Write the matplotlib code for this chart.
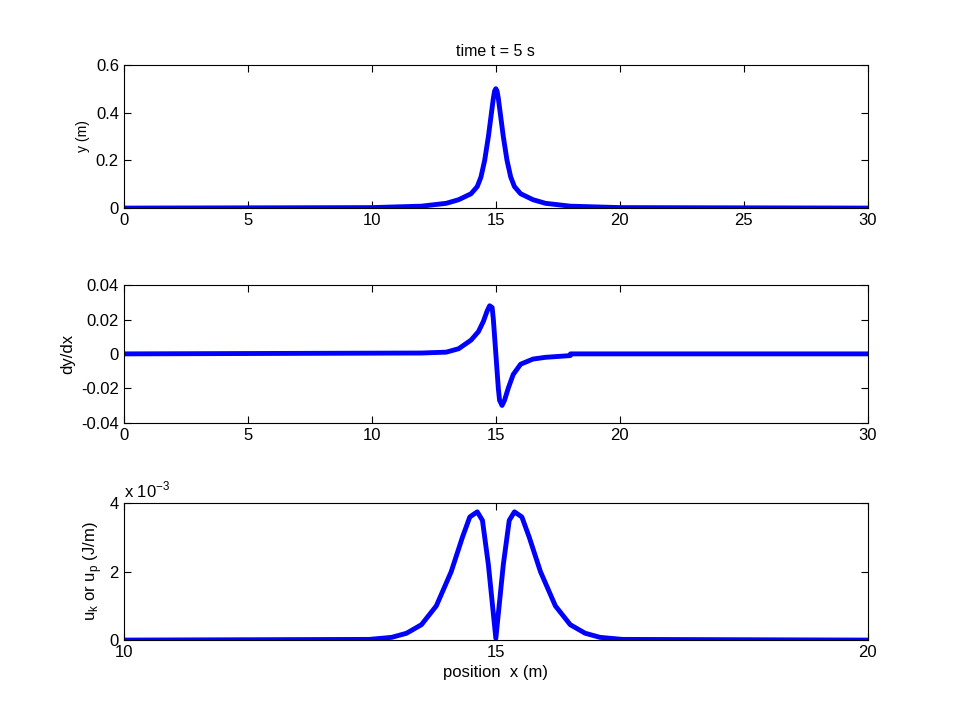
import matplotlib
matplotlib.use("Agg")
import matplotlib.pyplot as plt

plt.rcParams['font.family'] = ['Liberation Sans', 'DejaVu Sans']
plt.rcParams['mathtext.fontset'] = 'custom'
plt.rcParams['mathtext.rm'] = 'Liberation Sans'

x_y = [0, 10, 12, 13, 13.5, 14, 14.25, 14.4, 14.55, 14.7, 14.8, 14.9, 14.95, 15, 15.05, 15.1, 15.2, 15.3, 15.45, 15.6, 15.75, 16, 16.5, 17, 18, 20, 30]
y_vals = [0, 0.002, 0.008, 0.02, 0.035, 0.06, 0.09, 0.13, 0.2, 0.3, 0.38, 0.46, 0.49, 0.5, 0.49, 0.46, 0.38, 0.3, 0.2, 0.13, 0.09, 0.06, 0.035, 0.02, 0.008, 0.002, 0]

x_d = [0, 12, 13, 13.5, 14, 14.3, 14.5, 14.65, 14.75, 14.85, 14.9, 15, 15.1, 15.15, 15.25, 15.35, 15.5, 15.7, 16, 16.5, 17, 18, 18.01, 30]
d_vals = [0, 0.0005, 0.001, 0.003, 0.008, 0.013, 0.019, 0.025, 0.028, 0.027, 0.02, 0, -0.02, -0.027, -0.03, -0.027, -0.02, -0.012, -0.006, -0.003, -0.002, -0.001, 0, 0]

x_u = [10, 13.3, 13.6, 13.8, 14.0, 14.2, 14.4, 14.55, 14.65, 14.75, 14.82, 14.9, 15.0, 15.1, 15.18, 15.25, 15.35, 15.45, 15.6, 15.8, 16.0, 16.2, 16.4, 16.7, 20]
u_vals = [0, 0.02, 0.08, 0.2, 0.45, 1.0, 2.0, 3.0, 3.6, 3.75, 3.5, 2.2, 0.05, 2.2, 3.5, 3.75, 3.6, 3.0, 2.0, 1.0, 0.45, 0.2, 0.08, 0.02, 0]

fig = plt.figure(figsize=(9.6, 7.2), dpi=100)
L, W = 0.129, 0.775
ax1 = fig.add_axes([L, 0.711, W, 0.199])
ax2 = fig.add_axes([L, 0.413, W, 0.191])
ax3 = fig.add_axes([L, 0.111, W, 0.190])

for ax in (ax1, ax2, ax3):
    ax.tick_params(direction='in', top=True, right=True, labelsize=12, length=5)
    for s in ax.spines.values():
        s.set_linewidth(0.8)

ax1.plot(x_y, y_vals, color='blue', lw=3.5)
ax1.set_xlim(0, 30); ax1.set_ylim(0, 0.6)
ax1.set_xticks([0, 5, 10, 15, 20, 25, 30])
ax1.set_yticks([0, 0.2, 0.4, 0.6])
ax1.set_yticklabels(['0', '0.2', '0.4', '0.6'])
ax1.set_ylabel('y (m)', fontsize=10)
ax1.set_title('time t = 5 s', fontsize=11.5)

ax2.plot(x_d, d_vals, color='blue', lw=3.5)
ax2.set_xlim(0, 30); ax2.set_ylim(-0.04, 0.04)
ax2.set_xticks([0, 5, 10, 15, 20, 30])
ax2.set_yticks([-0.04, -0.02, 0, 0.02, 0.04])
ax2.set_yticklabels(['-0.04', '-0.02', '0', '0.02', '0.04'])
ax2.set_ylabel('dy/dx', fontsize=12)

ax3.plot(x_u, u_vals, color='blue', lw=3.5)
ax3.set_xlim(10, 20); ax3.set_ylim(0, 4)
ax3.set_xticks([10, 15, 20])
ax3.set_yticks([0, 2, 4])
ax3.set_ylabel(r'u$_\mathregular{k}$ or u$_\mathregular{p}$ (J/m)', fontsize=12)
ax3.set_xlabel('position  x (m)', fontsize=12)
ax3.text(0, 1.02, r'x 10$^\mathregular{-3}$', transform=ax3.transAxes, fontsize=12, va='bottom')

fig.savefig('out.png', dpi=100)
